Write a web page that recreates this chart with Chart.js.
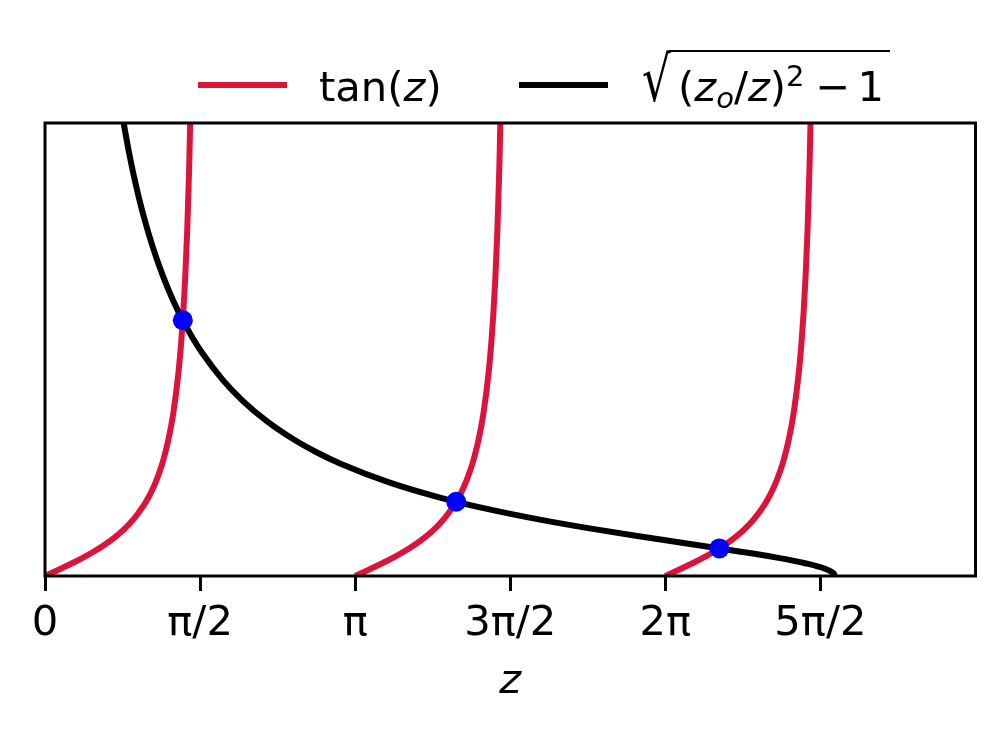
<!DOCTYPE html>
<html>
<head>
<meta charset="utf-8">
<script src="https://cdn.jsdelivr.net/npm/chart.js@4.4.0/dist/chart.umd.min.js"></script>
<style>
  html, body { margin: 0; padding: 0; background: #fff; }
  #wrap { position: relative; width: 1004px; height: 732px; }
  #wrap canvas { position: absolute; left: 0; top: 0; }
  .leg { position: absolute; font-family: 'DejaVu Sans', sans-serif; font-size: 41.67px; line-height: 41.67px; color: #000; white-space: nowrap; }
  .leg i { font-style: italic; }
  .swatch { position: absolute; }
  .scr { font-size: 29px; position: relative; }
</style>
</head>
<body>
<div id="wrap">
  <canvas id="chart" width="1004" height="732"></canvas>
  <div class="swatch" style="left:198px; top:81.7px; width:88.5px; height:6px; background:#dc143c;"></div>
  <div class="leg" style="left:319px; top:66.3px;">tan(<i>z</i>)</div>
  <div class="swatch" style="left:519px; top:81.7px; width:89px; height:6.5px; background:#000;"></div>
  <div class="leg" id="rad" style="left:641px; top:40px; font-size:100px; line-height:100px; transform-origin:0 0;">√</div>
  <div class="swatch" style="left:669px; top:50px; width:221px; height:2px; background:#000;"></div>
  <div class="leg" style="left:678px; top:66.3px;">(<i>z</i><span class="scr" style="top:7px;"><i>o</i></span>/<i>z</i>)<span class="scr" style="top:-15px;">2</span><span style="margin-left:11px;">−</span><span style="margin-left:7px;">1</span></div>
</div>
<script>
// axis range and ticks (z in radians)
const xMin = 0;
const xMax = 9.4248;
const yMin = 0;
const yMax = 10;
const tickValues = [0, 1.5708, 3.1416, 4.7124, 6.2832, 7.854];
const tickLabels = ['0', 'π/2', 'π', '3π/2', '2π', '5π/2'];

// tan(z) branches
const tanZ1 = [0, 0.1, 0.2, 0.3, 0.4, 0.5, 0.6, 0.7, 0.8, 0.9, 1.0, 1.05, 1.1, 1.15, 1.2, 1.25, 1.3, 1.35, 1.38, 1.4, 1.42, 1.44, 1.46, 1.48];
const tanY1 = [0, 0.1003, 0.2027, 0.3093, 0.4228, 0.5463, 0.6841, 0.8423, 1.0296, 1.2602, 1.5574, 1.7433, 1.9648, 2.2345, 2.5722, 3.0096, 3.6021, 4.4552, 5.1774, 5.7979, 6.5811, 7.6018, 8.9886, 10.983];
const tanZ2 = [3.1416, 3.2416, 3.3416, 3.4416, 3.5416, 3.6416, 3.7416, 3.8416, 3.9416, 4.0416, 4.1416, 4.1916, 4.2416, 4.2916, 4.3416, 4.3916, 4.4416, 4.4916, 4.5216, 4.5416, 4.5616, 4.5816, 4.6016, 4.6216];
const tanY2 = [0, 0.1003, 0.2027, 0.3093, 0.4228, 0.5463, 0.6841, 0.8423, 1.0296, 1.2602, 1.5574, 1.7433, 1.9648, 2.2345, 2.5722, 3.0096, 3.6021, 4.4552, 5.1774, 5.7979, 6.5811, 7.6018, 8.9886, 10.983];
const tanZ3 = [6.2832, 6.3832, 6.4832, 6.5832, 6.6832, 6.7832, 6.8832, 6.9832, 7.0832, 7.1832, 7.2832, 7.3332, 7.3832, 7.4332, 7.4832, 7.5332, 7.5832, 7.6332, 7.6632, 7.6832, 7.7032, 7.7232, 7.7432, 7.7632];
const tanY3 = [0, 0.1003, 0.2027, 0.3093, 0.4228, 0.5463, 0.6841, 0.8423, 1.0296, 1.2602, 1.5574, 1.7433, 1.9648, 2.2345, 2.5722, 3.0096, 3.6021, 4.4552, 5.1774, 5.7979, 6.5811, 7.6018, 8.9886, 10.983];

// sqrt((zo/z)^2 - 1)
const rootZ = [0.78, 0.85, 0.9, 0.95, 1.0, 1.1, 1.2, 1.3, 1.4, 1.5, 1.6, 1.8, 2.0, 2.25, 2.5, 2.75, 3.0, 3.5, 4.0, 4.5, 5.0, 5.5, 6.0, 6.5, 7.0, 7.4, 7.7, 7.9, 7.97, 7.99, 8.0];
const rootY = [10.207, 9.359, 8.832, 8.361, 7.937, 7.204, 6.591, 6.072, 5.626, 5.239, 4.899, 4.330, 3.873, 3.412, 3.040, 2.732, 2.472, 2.055, 1.732, 1.470, 1.249, 1.056, 0.882, 0.718, 0.553, 0.411, 0.282, 0.160, 0.087, 0.050, 0];

// intersections
const dotZ = [1.396, 4.165, 6.831];
const dotY = [5.646, 1.640, 0.609];

const FONT = "'DejaVu Sans', sans-serif";

function pts(xs, ys) {
    return xs.map((x, i) => ({ x: x, y: ys[i] }));
}

function tanSet(xs, ys) {
    return {
        data: pts(xs, ys),
        borderColor: '#dc143c',
        borderWidth: 6,
        pointRadius: 0,
        cubicInterpolationMode: 'monotone',
        clip: 0,
        order: 2
    };
}

// ajustar el signo de raíz a su caja (643..671, 51..104)
function fitRadical() {
    const el = document.getElementById('rad');
    const c = document.createElement('canvas').getContext('2d');
    c.font = '100px ' + FONT;
    const m = c.measureText('√');
    const inkW = m.actualBoundingBoxLeft + m.actualBoundingBoxRight;
    const inkH = m.actualBoundingBoxAscent + m.actualBoundingBoxDescent;
    const fA = m.fontBoundingBoxAscent, fD = m.fontBoundingBoxDescent;
    const base = (100 - (fA + fD)) / 2 + fA;
    const sx = 28 / inkW, sy = 53 / inkH;
    el.style.left = (643 + sx * m.actualBoundingBoxLeft) + 'px';
    el.style.top = (51 - sy * (base - m.actualBoundingBoxAscent)) + 'px';
    el.style.transform = 'scale(' + sx + ',' + sy + ')';
}

// marco negro alrededor del área
const framePlugin = {
    id: 'frame',
    afterDatasetsDraw(chart) {
        const { ctx, chartArea: a } = chart;
        ctx.save();
        ctx.strokeStyle = '#000';
        ctx.lineWidth = 3;
        ctx.strokeRect(a.left, a.top, a.right - a.left, a.bottom - a.top);
        ctx.restore();
    }
};

new Chart(document.getElementById('chart'), {
    type: 'line',
    data: {
        datasets: [
            {
                data: pts(dotZ, dotY),
                showLine: false,
                pointRadius: 10,
                pointBackgroundColor: '#0000ff',
                pointBorderWidth: 0,
                clip: 0,
                order: 0
            },
            {
                data: pts(rootZ, rootY),
                borderColor: '#000',
                borderWidth: 6,
                pointRadius: 0,
                cubicInterpolationMode: 'monotone',
                clip: 0,
                order: 1
            },
            tanSet(tanZ1, tanY1),
            tanSet(tanZ2, tanY2),
            tanSet(tanZ3, tanY3)
        ]
    },
    options: {
        responsive: false,
        animation: false,
        layout: { padding: { left: 45, right: 28.5, top: 123, bottom: 25 } },
        plugins: { legend: { display: false }, tooltip: { enabled: false } },
        scales: {
            x: {
                type: 'linear',
                min: xMin,
                max: xMax,
                afterBuildTicks: scale => { scale.ticks = tickValues.map(v => ({ value: v })); },
                afterFit: scale => { scale.height = 131; },
                ticks: {
                    callback: (value, index) => tickLabels[index],
                    color: '#000',
                    padding: 8.5,
                    maxRotation: 0,
                    autoSkip: false,
                    font: { family: FONT, size: 41.67, lineHeight: 1.2 }
                },
                grid: {
                    display: true,
                    drawOnChartArea: false,
                    drawTicks: true,
                    tickLength: 15,
                    tickWidth: 3,
                    tickColor: '#000'
                },
                border: { display: false },
                title: {
                    display: true,
                    text: 'z',
                    color: '#000',
                    padding: { top: 0, bottom: 0 },
                    font: { family: FONT, size: 41.67, style: 'italic', lineHeight: 1.2 }
                }
            },
            y: {
                display: false,
                min: yMin,
                max: yMax
            }
        }
    },
    plugins: [framePlugin]
});

document.fonts.ready.then(fitRadical);
fitRadical();
</script>
</body>
</html>
